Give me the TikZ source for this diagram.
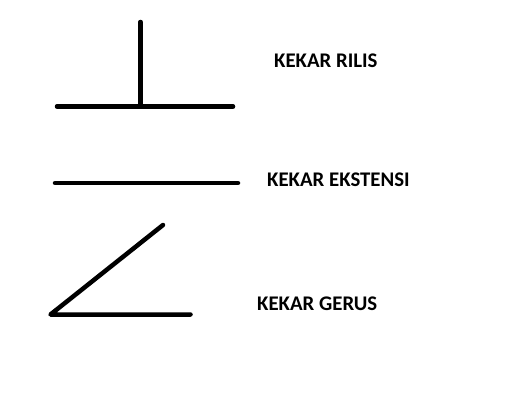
\documentclass[tikz,border=0pt]{standalone}
\usepackage{fontspec}
\setmainfont{Carlito}
\tikzset{
  stroke/.style={line width=4.5pt, line cap=round, line join=round, black},
  lbl/.style={anchor=base west, inner sep=0pt, font=\bfseries\fontsize{20.8pt}{24pt}\selectfont}
}
\begin{document}
\begin{tikzpicture}[x=1pt,y=-1pt]
\useasboundingbox[fill=white] (0,0) rectangle (522,404);
% KEKAR RILIS
\coordinate (r1) at (57,106.5);
\coordinate (r2) at (233,106.5);
\coordinate (rt) at (140.5,22);
\coordinate (rb) at (140.5,106.5);
\draw[stroke] (r1) -- (r2);
\draw[stroke] (rt) -- (rb);
\node[lbl] (tr) at (274,67) {KEKAR RILIS};
% KEKAR EKSTENSI
\coordinate (e1) at (55,183);
\coordinate (e2) at (238,183);
\draw[stroke] (e1) -- (e2);
\node[lbl] (te) at (267,186.5) {KEKAR EKSTENSI};
% KEKAR GERUS
\coordinate (g0) at (50.5,314.5);
\coordinate (g1) at (163,225);
\coordinate (g2) at (190.5,314.5);
\draw[stroke] (g1) -- (g0) -- (g2);
\node[lbl] (tg) at (257,310) {KEKAR GERUS};
\end{tikzpicture}
\end{document}
